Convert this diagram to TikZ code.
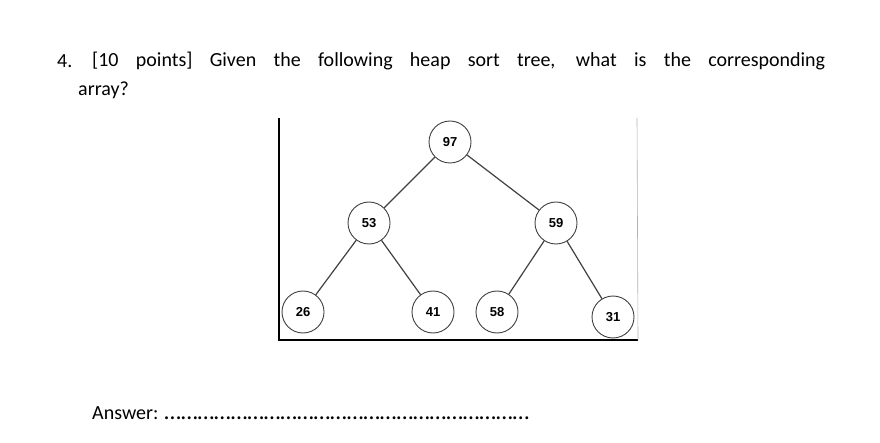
\documentclass[tikz,border=0pt]{standalone}
\usepackage{fontspec}
\setmainfont{Carlito}
\newfontfamily\nodefont{Liberation Sans}
\begin{document}
\begin{tikzpicture}[x=1pt,y=-1pt,
  hn/.style={circle,draw=black!75,line width=0.9pt,minimum size=42pt,inner sep=0pt,font=\nodefont\bfseries\fontsize{13}{15}\selectfont,fill=white},
  edge/.style={draw=black!75,line width=1.2pt},
  txt/.style={anchor=west,inner sep=0pt,font=\fontsize{20}{24}\selectfont}]
\useasboundingbox (0,0) rectangle (880,443);
\node[txt] (num) at (57,61) {4.};
\node[txt] (q) at (92,61) {\makebox[733pt][s]{[10 points] Given the following heap sort tree, what is the corresponding}};
\node[txt] (q2) at (78,90) {array?};
\coordinate (tl) at (279,118);
\coordinate (bl) at (279,340);
\coordinate (br) at (638,340);
\coordinate (tr) at (637,118);
\draw[line width=2pt] (tl) -- (bl) -- (br);
\draw[black!30,line width=0.6pt] (tr) -- (br);
\node[hn] (n97) at (450,142) {97};
\node[hn] (n53) at (369,223) {53};
\node[hn] (n59) at (556,223) {59};
\node[hn] (n26) at (303,312) {26};
\node[hn] (n41) at (433,312) {41};
\node[hn] (n58) at (497,312) {58};
\node[hn] (n31) at (613,317) {31};
\draw[edge] (n97) -- (n53);
\draw[edge] (n97) -- (n59);
\draw[edge] (n53) -- (n26);
\draw[edge] (n53) -- (n41);
\draw[edge] (n59) -- (n58);
\draw[edge] (n59) -- (n31);
\node[txt] (ans) at (92,413) {Answer: \resizebox{365pt}{!}{\dots\dots\dots\dots\dots\dots\dots\dots\dots\dots\dots\dots\dots\dots\dots\dots\dots\dots\dots\dots\dots\dots}};
\end{tikzpicture}
\end{document}
